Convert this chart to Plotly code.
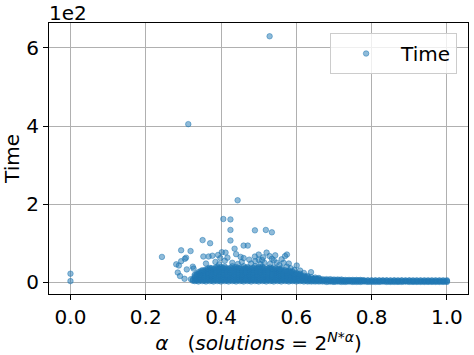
import plotly.graph_objects as go

# ---------------- data ----------------
SERIES_NAME = "Time"

# dense band, grid A: alpha columns and rows of time values (None = no point)
ALPHA_GRID = [
    0.32, 0.33, 0.34, 0.35, 0.36, 0.37, 0.38, 0.39, 0.40, 0.41,
    0.42, 0.43, 0.44, 0.45, 0.46, 0.47, 0.48, 0.49, 0.50, 0.51,
    0.52, 0.53, 0.54, 0.55, 0.56, 0.57, 0.58, 0.59, 0.60, 0.61,
    0.62, 0.63, 0.64, 0.65, 0.66, 0.67, 0.68, 0.69, 0.70, 0.71,
    0.72, 0.73, 0.74, 0.75, 0.76, 0.77, 0.78, 0.79, 0.80, 0.81,
    0.82, 0.83, 0.84, 0.85, 0.86, 0.87, 0.88, 0.89, 0.90, 0.91,
    0.92, 0.93, 0.94, 0.95, 0.96, 0.97, 0.98, 0.99, 1.00,
]
N = None
TIME_ROW_0 = [
    N, 3, 2, 3, 2, 3, 2, 3, 2, 3,
    2, 3, 2, 3, 2, 3, 2, 3, 2, 3,
    2, 3, 2, 3, 2, 3, 2, 3, 2, 3,
    2, 2, 2, 2, 2, 2, 1, 2, 1, 2,
    1, 1, 2, 1, 1, 1, 2, 1, 1, 1,
    1, 2, 1, 1, 1, 1, 1, 2, 1, 1,
    1, 1, 1, 1, 1, 1, 1, 1, 1,
]
TIME_ROW_1 = [
    N, 6, 6, 7, 6, 7, 6, 7, 6, 7,
    6, 7, 6, 7, 6, 7, 6, 7, 6, 7,
    6, 7, 6, 7, 6, 7, 6, 6, 6, 6,
    6, 5, 5, 5, 5, 5, 5, 4, 4, 4,
    4, 4, 4, 4, 4, 4, 4, 4, 4, 4,
    4, 4, 4, 3, 4, 3, 4, 3, 4, 3,
    3, 3, 3, 3, 3, 3, 3, 3, 3,
]
TIME_ROW_2 = [
    8, 11, 11, 12, 11, 12, 11, 12, 11, 12,
    11, 12, 11, 12, 11, 12, 11, 12, 11, 12,
    11, 12, 11, 12, 11, 12, 11, 11, 10, 10,
    10, 10, 9, 9, 9, 8, 8, 8, 7, 7,
    7, 6, 6, 6, 6, 6, 5, 5, 5, 5,
    5, 5, 5, 5, 5, 5, 5, 5, 5, 5,
    5, 5, 5, 5, 5, 5, 5, 5, 5,
]
TIME_ROW_3 = [
    N, 15, 16, 17, 16, 17, 16, 17, 16, 17,
    16, 17, 16, 17, 16, 17, 16, 17, 16, 17,
    16, 17, 16, 17, 16, 17, 16, 16, 15, 15,
    14, 14, 13, 12, 11,
]
TIME_ROW_4 = [
    N, 19, 22, 23, 22, 23, 22, 23, 22, 23,
    22, 23, 22, 23, 22, 23, 22, 23, 22, 23,
    22, 23, 22, 23, 22, 22, 21, 21, 20, 19,
    17, 16,
]
TIME_ROW_5 = [
    N, N, 26, 28, 28, 29, 28, 29, 28, 29,
    28, 29, 28, 29, 28, 29, 28, 29, 28, 29,
    28, 29, 28, 28, 27, 27, 26, 25, 24, 22,
]
TIME_ROW_6 = [
    N, N, N, 31, 33, 34, 34, 35, 34, 35,
    34, 35, 34, 35, 34, 35, 34, 35, 34, 35,
    34, 34, 33, 33, 32, 31, 30, 28,
]
TIME_ROW_7 = [
    N, N, N, N, N, 37, N, 40, 39, 40,
    N, 41, 39, N, 41, 39, N, 41, 39, 40,
    N, 38, 38, N, 36,
]

# dense band, grid B (columns between those of grid A)
ALPHA_GRID_B = [
    0.325, 0.335, 0.345, 0.355, 0.365, 0.375, 0.385, 0.395, 0.405, 0.415,
    0.425, 0.435, 0.445, 0.455, 0.465, 0.475, 0.485, 0.495, 0.505, 0.515,
    0.525, 0.535, 0.545, 0.555, 0.565, 0.575, 0.585, 0.595, 0.605, 0.615,
    0.625, 0.635, 0.645, 0.655, 0.665, 0.675, 0.685, 0.695, 0.705, 0.715,
    0.725, 0.735, 0.745, 0.755, 0.765, 0.775, 0.785, 0.795, 0.805, 0.815,
    0.825, 0.835, 0.845, 0.855, 0.865, 0.875, 0.885, 0.895, 0.905, 0.915,
    0.925, 0.935, 0.945, 0.955, 0.965, 0.975, 0.985, 0.995,
]
TIME_ROW_B0 = [
    4, 4, 5, 4, 5, 4, 5, 4, 5, 4,
    5, 4, 5, 4, 5, 4, 5, 4, 5, 4,
    5, 4, 5, 4, 5, 4, 4, 4, 4, 4,
    4, 3, 3, 3, 3, 3, 2, 2, 2, 2,
    2, 2, 2, 2, 2, 2, 2, 2, 2, 2,
    2, 2, 2, 2, 2, 2, 2, 2, 2, 2,
    2, 2, 2, 2, 2, 2, 2, 2,
]
TIME_ROW_B1 = [
    7, 8, 9, 8, 9, 8, 9, 8, 9, 8,
    9, 8, 9, 8, 9, 8, 9, 8, 9, 8,
    9, 8, 9, 8, 9, 8, 8, 8, 8, 7,
    7, 7, 7, 7, 6, 6, 6, 6, 6, 6,
    5, 5, 5, 5, 5, 5,
]
TIME_ROW_B2 = [
    N, 13, 14, 14, 14, 15, 14, 15, 14, 15,
    14, 15, 14, 15, 14, 15, 14, 15, 14, 15,
    14, 15, 14, 15, 14, 14, 14, 13, 12, 12,
    11, 10, 9, 9,
]
TIME_ROW_B3 = [
    N, 18, 19, 20, 19, 20, 19, 20, 19, 20,
    19, 20, 19, 20, 19, 20, 19, 20, 19, 20,
    19, 20, 19, 20, 19, 19, 18, 18, 17, 16,
    14,
]
TIME_ROW_B4 = [
    N, 22, 24, 25, 25, 26, 25, 26, 25, 26,
    25, 26, 25, 26, 25, 26, 25, 26, 25, 26,
    25, 26, 25, 25, 24, 24, 23, 22, 21,
]
TIME_ROW_B5 = [
    N, N, 28, 30, 31, 31, 32, 31, 32, 31,
    32, 31, 32, 31, 32, 31, 32, 31, 32, 31,
    31, 31, 30, 30, 29, 28, 27,
]
TIME_ROW_B6 = [
    N, N, N, N, 35, 36, 37, 36, 37, 36,
    37, 36, 37, 36, 37, 36, 37, 36, 37, 36,
    36, 35, 35, 34,
]

# scattered points outside the dense band
OUT_ALPHA = [
    0.000, 0.000, 0.243, 0.281, 0.288, 0.294, 0.304, 0.294, 0.319, 0.307,
    0.285, 0.291, 0.303, 0.309, 0.325, 0.327, 0.313, 0.351, 0.371, 0.353,
    0.367, 0.377, 0.406, 0.425, 0.425, 0.425, 0.444, 0.436, 0.460, 0.471,
    0.490, 0.519, 0.535, 0.402, 0.412, 0.417, 0.460, 0.475, 0.490, 0.500,
    0.491, 0.509, 0.521, 0.529, 0.535, 0.548, 0.566, 0.544, 0.561, 0.575,
    0.570, 0.601, 0.639, 0.529, 0.360, 0.385, 0.395, 0.410, 0.430, 0.445,
    0.455, 0.480, 0.505, 0.515, 0.530, 0.555, 0.575, 0.585, 0.620, 0.595,
    0.392, 0.398, 0.440, 0.452, 0.500, 0.512, 0.540, 0.580, 0.610,
]
OUT_TIME = [
    22, 3, 65, 46, 43, 54, 60, 82, 80, 63,
    25, 16, 9, 33, 40, 35, 405, 108, 100, 66,
    66, 68, 162, 161, 134, 107, 210, 86, 94, 94,
    133, 134, 128, 77, 76, 63, 62, 58, 66, 58,
    54, 57, 76, 67, 60, 50, 50, 69, 59, 71,
    67, 43, 26, 630, 48, 52, 46, 55, 50, 47,
    52, 48, 46, 50, 47, 44, 40, 36, 24, 32,
    70, 62, 72, 65, 71, 64, 56, 48, 30,
]

X_TICKS = [0.0, 0.2, 0.4, 0.6, 0.8, 1.0]
Y_TICKS = [0, 200, 400, 600]
Y_TICK_LABELS = ["0", "2", "4", "6"]
Y_OFFSET_LABEL = "1e2"

# ---------------- assemble points ----------------
xs, ys = [], []
for grid, rows in [
    (ALPHA_GRID, [TIME_ROW_0, TIME_ROW_1, TIME_ROW_2, TIME_ROW_3, TIME_ROW_4,
                  TIME_ROW_5, TIME_ROW_6, TIME_ROW_7]),
    (ALPHA_GRID_B, [TIME_ROW_B0, TIME_ROW_B1, TIME_ROW_B2, TIME_ROW_B3,
                    TIME_ROW_B4, TIME_ROW_B5, TIME_ROW_B6]),
]:
    for row in rows:
        for a, t in zip(grid, row):
            if t is not None:
                xs.append(a)
                ys.append(t)
xs += OUT_ALPHA
ys += OUT_TIME

FONT = "DejaVu Sans"
FS = 20
BLUE = "rgba(31,119,180,0.5)"

fig = go.Figure()
fig.add_trace(go.Scatter(
    x=xs, y=ys, mode="markers", name=SERIES_NAME,
    marker=dict(size=5.5, color=BLUE, line=dict(color=BLUE, width=1)),
))

axis_common = dict(
    showline=True, linecolor="black", linewidth=1, mirror=True,
    showgrid=True, gridcolor="#b0b0b0", gridwidth=0.8,
    ticks="outside", ticklen=5, tickwidth=1, tickcolor="black",
    zeroline=False, automargin=False,
    tickfont=dict(family=FONT, size=FS, color="black"),
)

fig.update_layout(
    width=474, height=355,
    margin=dict(l=49, r=6, t=23, b=61),
    paper_bgcolor="white", plot_bgcolor="white",
    font=dict(family=FONT, size=FS, color="black"),
    showlegend=True,
    legend=dict(
        x=0.974, y=0.963, xanchor="right", yanchor="top",
        bgcolor="rgba(255,255,255,0.8)", bordercolor="#cccccc", borderwidth=1,
        font=dict(family=FONT, size=FS, color="black"),
        itemwidth=60,
    ),
    xaxis=dict(
        range=[-0.057, 1.056],
        tickvals=X_TICKS, tickformat=".1f",
        title=dict(
            text="<i>α</i>   (<i>solutions</i> = 2<sup><i>N</i>*<i>α</i></sup>)",
            font=dict(family=FONT, size=FS, color="black"),
            standoff=2,
        ),
        **axis_common,
    ),
    yaxis=dict(
        range=[-30, 664],
        tickvals=Y_TICKS, ticktext=Y_TICK_LABELS,
        title=dict(text="Time", font=dict(family=FONT, size=FS, color="black"),
                   standoff=4),
        **axis_common,
    ),
    annotations=[dict(
        text=Y_OFFSET_LABEL, xref="paper", yref="paper", x=0, y=1,
        xanchor="left", yanchor="bottom", showarrow=False, xshift=-2, yshift=-4,
        font=dict(family=FONT, size=FS, color="black"),
    )],
)

fig.write_html("out.html", config={"displayModeBar": False})

# remove the browser's default page margin so the figure sits at (0, 0)
with open("out.html", "r", encoding="utf-8") as f:
    html = f.read()
html = html.replace("<body>", '<body style="margin:0;padding:0;overflow:hidden">', 1)
with open("out.html", "w", encoding="utf-8") as f:
    f.write(html)
